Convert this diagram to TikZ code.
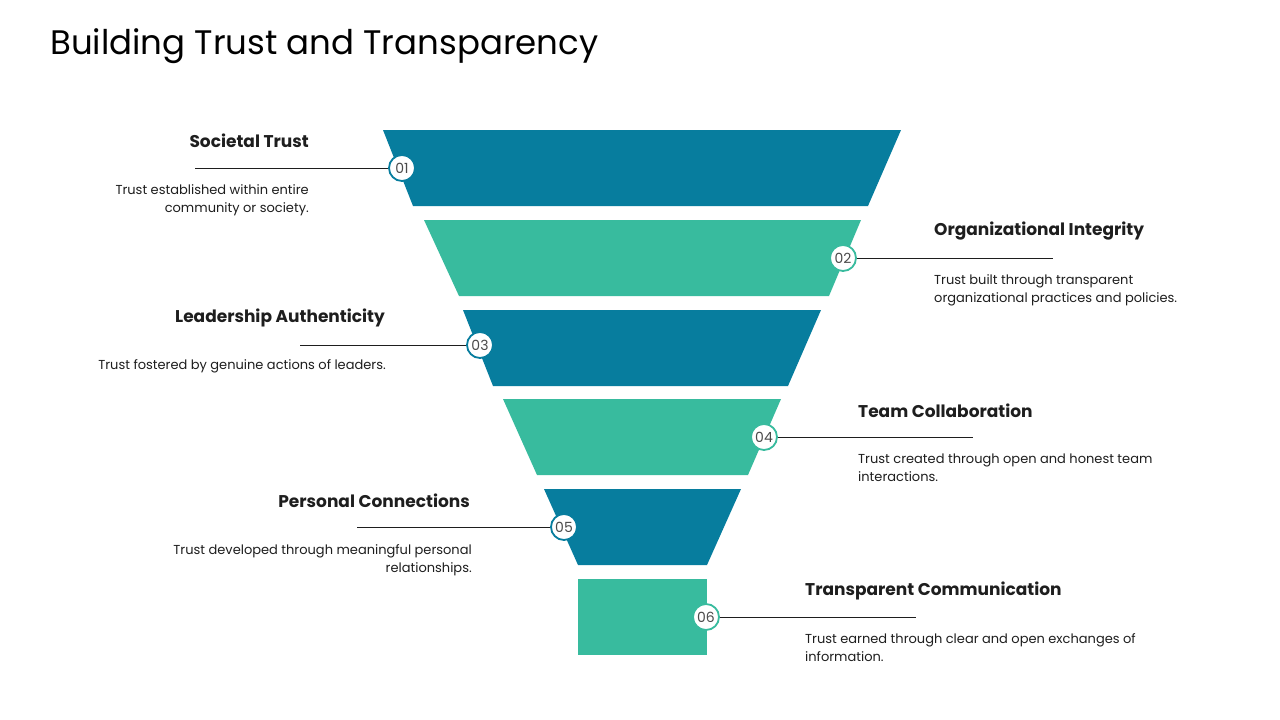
\documentclass[tikz,border=0pt]{standalone}
\usepackage{fontspec}
\setmainfont{Poppins}
\definecolor{dteal}{RGB}{7,125,158}
\definecolor{gteal}{RGB}{56,187,158}
\definecolor{txt}{RGB}{30,30,30}
\begin{document}
\begin{tikzpicture}[x=1pt,y=-1pt,
  num/.style={circle,draw=#1,line width=1.8pt,fill=white,minimum size=26pt,inner sep=0pt,font=\fontsize{14}{14}\selectfont,text=txt!80},
  ttl/.style={font=\fontsize{17}{20}\selectfont\bfseries,text=txt,inner sep=0pt},
  dsc/.style={font=\fontsize{13}{18}\selectfont,text=txt,inner sep=0pt,align=#1},
  ln/.style={draw=txt,line width=0.7pt}]
\useasboundingbox[fill=white] (0,0) rectangle (1280,720);
\node[anchor=west,inner sep=0pt,font=\fontsize{34}{40}\selectfont,text=black] (title) at (50,46) {Building Trust and Transparency};
\fill[dteal] (383,130)--(901,130)--(868,206)--(413,206)--cycle;
\fill[gteal] (424,220)--(861,220)--(829,296)--(459,296)--cycle;
\fill[dteal] (463,310)--(821,310)--(788,386)--(493,386)--cycle;
\fill[gteal] (503,399)--(781,399)--(748,475)--(537,475)--cycle;
\fill[dteal] (544,489)--(741,489)--(707,565)--(578,565)--cycle;
\fill[gteal] (578,579) rectangle (707,655);
% lines and circles
\coordinate (e1) at (195,168); \coordinate (e2) at (1053,258); \coordinate (e3) at (300,345);
\coordinate (e4) at (973,437); \coordinate (e5) at (357,527); \coordinate (e6) at (916,617);
\node[num=dteal] (c1) at (402,168) {01};
\node[num=gteal] (c2) at (843,258) {02};
\node[num=dteal] (c3) at (480,345) {03};
\node[num=gteal] (c4) at (764,437) {04};
\node[num=dteal] (c5) at (564,527) {05};
\node[num=gteal] (c6) at (706,617) {06};
\draw[ln] (e1)--(c1.west); \draw[ln] (c2.east)--(e2); \draw[ln] (e3)--(c3.west);
\draw[ln] (c4.east)--(e4); \draw[ln] (e5)--(c5.west); \draw[ln] (c6.east)--(e6);
% texts
\node[ttl,anchor=east] (t1) at (309,141) {Societal Trust};
\node[dsc=right,anchor=north east] (d1) at (309,184) {Trust established within entire\\community or society.};
\node[ttl,anchor=west] (t2) at (934,231) {Organizational Integrity};
\node[dsc=left,anchor=north west] (d2) at (934,274) {Trust built through transparent\\organizational practices and policies.};
\node[ttl,anchor=east] (t3) at (385,318) {Leadership Authenticity};
\node[dsc=right,anchor=north east] (d3) at (386,359) {Trust fostered by genuine actions of leaders.};
\node[ttl,anchor=west] (t4) at (858,411) {Team Collaboration};
\node[dsc=left,anchor=north west] (d4) at (858,454) {Trust created through open and honest team\\interactions.};
\node[ttl,anchor=east] (t5) at (470,501) {Personal Connections};
\node[dsc=right,anchor=north east] (d5) at (472,544) {Trust developed through meaningful personal\\relationships.};
\node[ttl,anchor=west] (t6) at (805,591) {Transparent Communication};
\node[dsc=left,anchor=north west] (d6) at (805,633) {Trust earned through clear and open exchanges of\\information.};
\end{tikzpicture}
\end{document}
